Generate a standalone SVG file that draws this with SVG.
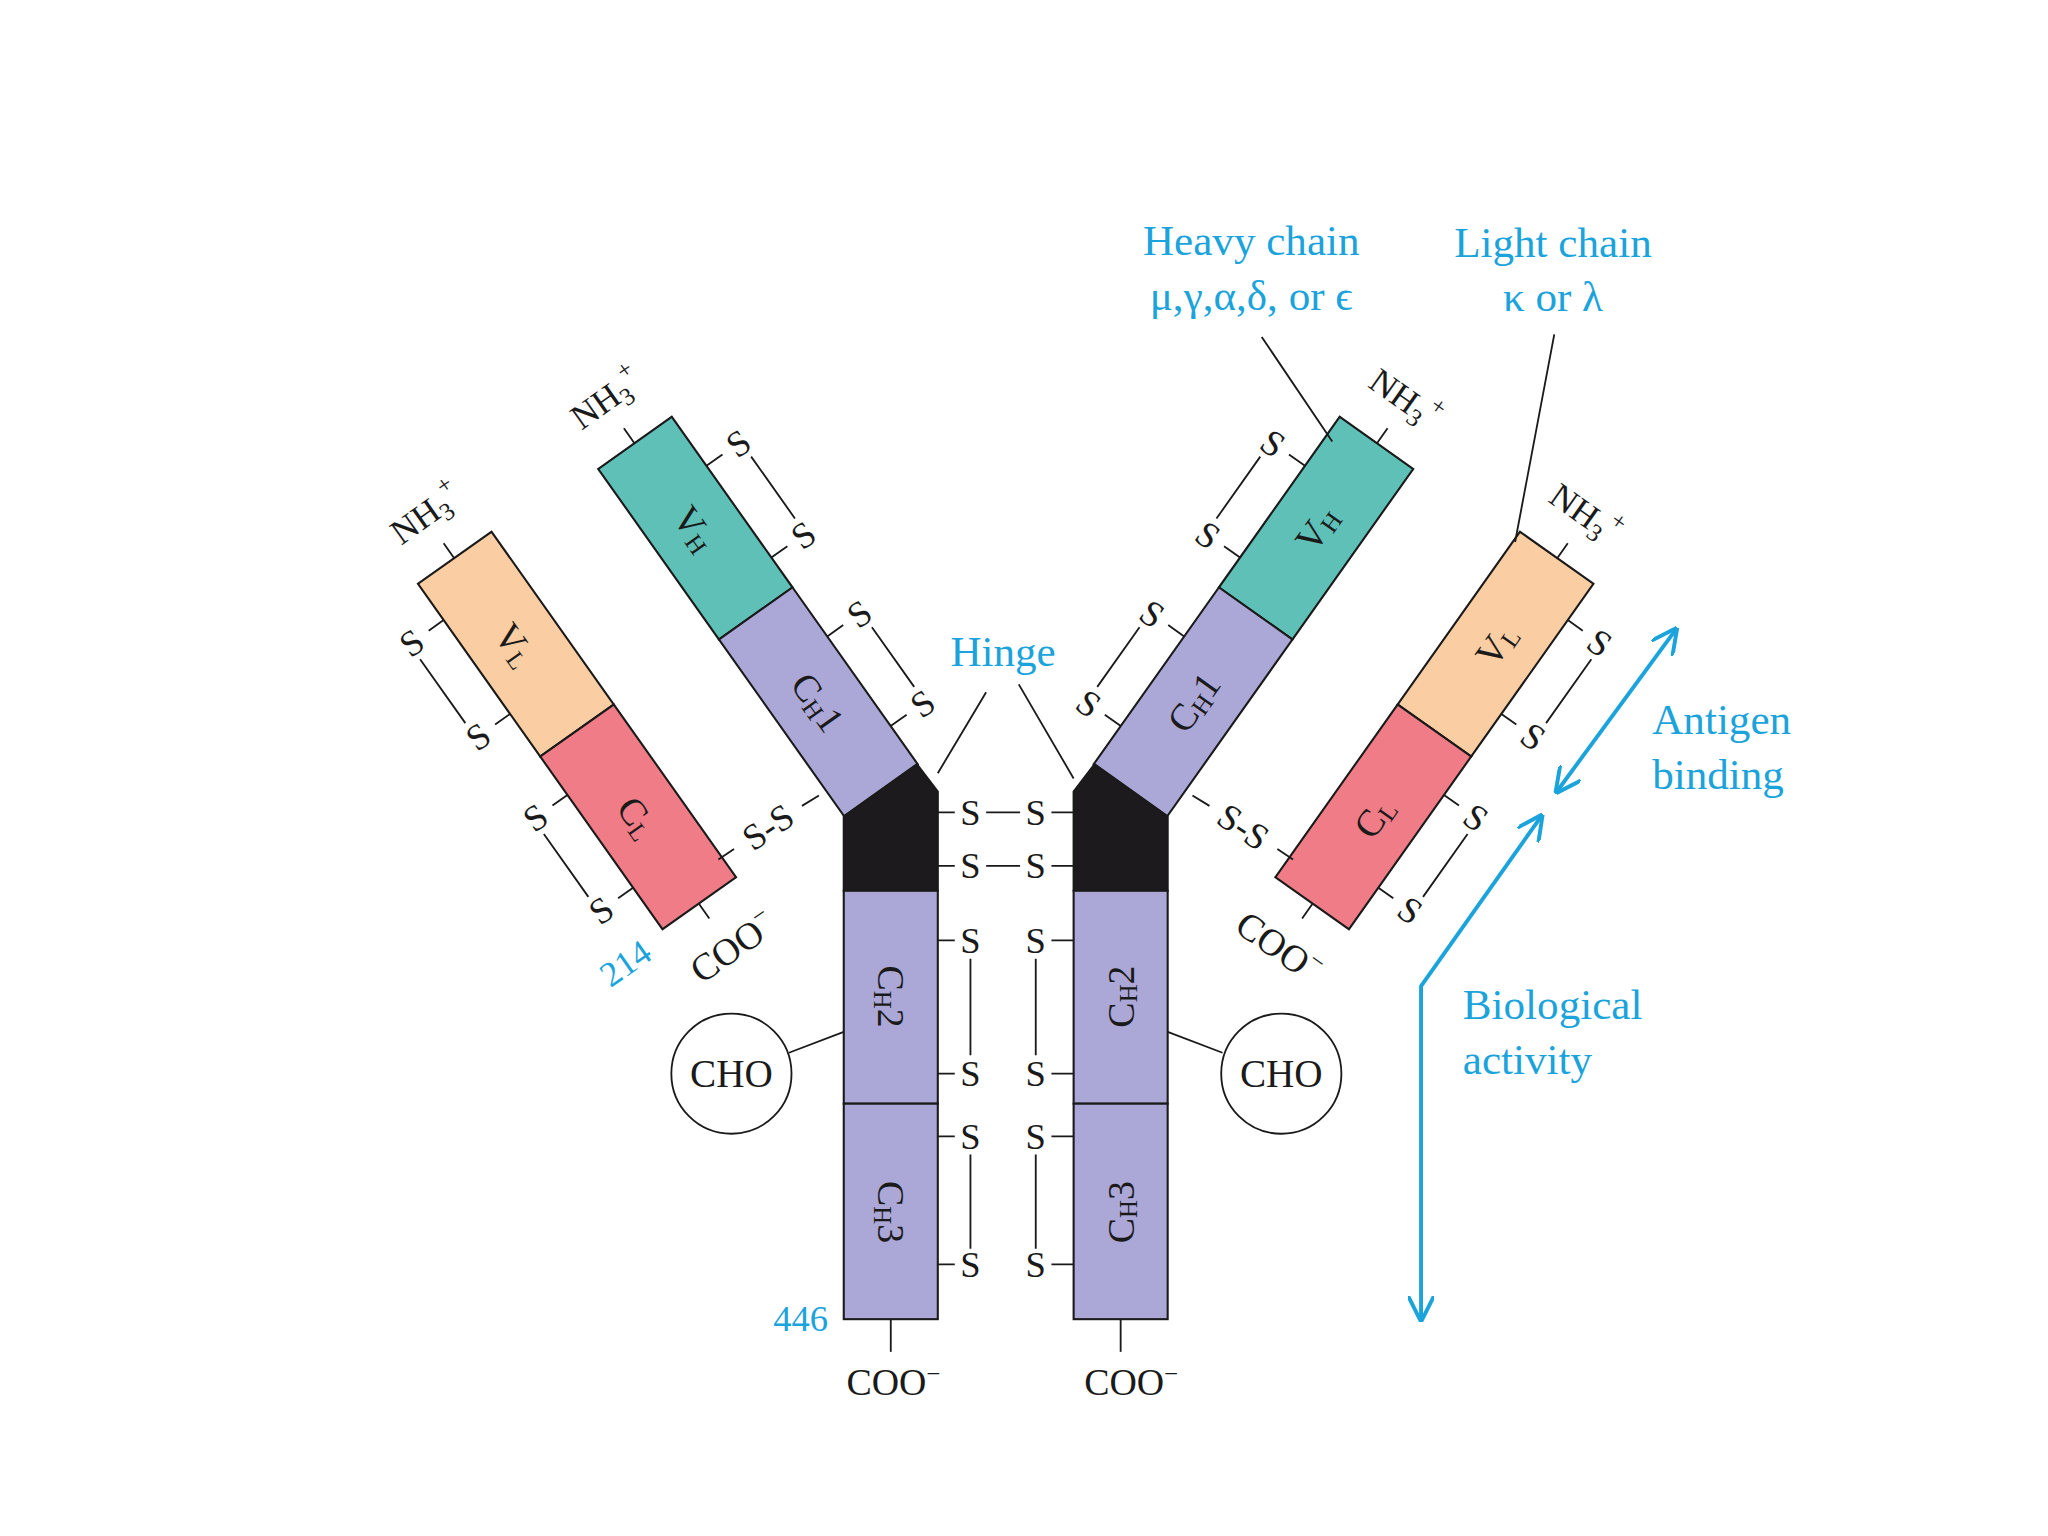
<svg xmlns="http://www.w3.org/2000/svg" width="2048" height="1536" viewBox="0 0 2048 1536">
<defs>
<style>
.b{stroke:#1a1a1a;stroke-width:1.6;}
.ln{stroke:#1a1a1a;stroke-width:1.4;fill:none;}
.vh{fill:#5ec0b6;}
.ch{fill:#aba7d6;}
.vl{fill:#fbcda2;}
.cl{fill:#ef7c86;}
.hg{fill:#1c1a1c;}
text{font-family:"Liberation Serif","DejaVu Serif",serif;fill:#1a1a1a;}
.s{font-size:28px;text-anchor:middle;dominant-baseline:central;}
.n{font-size:27px;text-anchor:middle;dominant-baseline:central;}
.c{font-size:29px;text-anchor:middle;}
.cc{font-size:29px;text-anchor:middle;dominant-baseline:central;}
.cho{font-size:30px;text-anchor:middle;}
.dl{font-size:29px;text-anchor:middle;dominant-baseline:central;}
.sb{font-size:19px;}
.bl{fill:#1ba3dc;font-size:33px;}
.arw{stroke:#1ba3dc;stroke-width:3;fill:none;}
</style>
<marker id="ah" viewBox="0 0 10 10" refX="9" refY="5" markerWidth="20" markerHeight="20" markerUnits="userSpaceOnUse" orient="auto-start-reverse">
<path d="M0,0 L10,5 L0,10" fill="none" stroke="#1ba3dc" stroke-width="1.5"/>
</marker>
</defs>
<rect width="2048" height="1536" fill="#ffffff"/>
<g transform="scale(1.30612)">

<!-- LEFT LIGHT CHAIN -->
<g id="left-light" transform="translate(320,447) rotate(54.7)">
<rect class="vl b" x="0" y="-69" width="162" height="69"/>
<rect class="cl b" x="162" y="-69" width="162" height="69"/>
<text class="dl" transform="translate(81,-34)">V<tspan class="sb" dy="6">L</tspan></text>
<text class="dl" transform="translate(243,-34)">C<tspan class="sb" dy="6">L</tspan></text>
<path class="ln" d="M34,0V14 M122,0V14 M198,0V14 M285,0V14 M48,32H108 M212,32H271 M0,-34H-14 M324,-34H338"/>
<text class="s" transform="translate(34,30) rotate(-90)">S</text>
<text class="s" transform="translate(122,30) rotate(-90)">S</text>
<text class="s" transform="translate(198,30) rotate(-90)">S</text>
<text class="s" transform="translate(285,30) rotate(-90)">S</text>
<text class="n" transform="translate(-40,-36) rotate(-90)">NH<tspan class="sb" dy="7">3</tspan><tspan class="sb" dy="-18">+</tspan></text>
<text class="cc" transform="translate(366,-36) rotate(-90)">COO<tspan dy="-9" class="sb">−</tspan></text>
</g>

<!-- LEFT HEAVY ARM -->
<g id="left-heavy-arm" transform="translate(458,359) rotate(54.7)">
<rect class="vh b" x="0" y="-69" width="160" height="69"/>
<rect class="ch b" x="160" y="-69" width="166" height="69"/>
<text class="dl" transform="translate(80,-34)">V<tspan class="sb" dy="6">H</tspan></text>
<text class="dl" transform="translate(243,-34)">C<tspan class="sb" dy="6">H</tspan><tspan dy="-6">1</tspan></text>
<path class="ln" d="M46,-69V-84 M132,-69V-84 M206,-69V-84 M290,-69V-84 M60,-101H118 M220,-101H276 M0,-34H-14"/>
<text class="s" transform="translate(46,-99) rotate(-90)">S</text>
<text class="s" transform="translate(132,-99) rotate(-90)">S</text>
<text class="s" transform="translate(206,-99) rotate(-90)">S</text>
<text class="s" transform="translate(290,-99) rotate(-90)">S</text>
<text class="n" transform="translate(-40,-36) rotate(-90)">NH<tspan class="sb" dy="7">3</tspan><tspan class="sb" dy="-18">+</tspan></text>
</g>

<!-- LEFT STEM -->
<g id="left-stem">
<polygon class="hg b" points="646,625 702,585 718,606 718,682 646,682"/>
<rect class="ch b" x="646" y="682" width="72" height="163"/>
<rect class="ch b" x="646" y="845" width="72" height="165"/>
<text class="dl" transform="translate(682,763) rotate(90)">C<tspan class="sb" dy="6">H</tspan><tspan dy="-6">2</tspan></text>
<text class="dl" transform="translate(682,928) rotate(90)">C<tspan class="sb" dy="6">H</tspan><tspan dy="-6">3</tspan></text>
<path class="ln" d="M682,1010V1035"/>
<text class="c" x="684" y="1068">COO<tspan dy="-10" class="sb">−</tspan></text>
<text class="bl" font-size="28" x="634" y="1019" text-anchor="end" style="font-size:28px">446</text>
</g>
<g id="left-cho">
<circle cx="560" cy="822" r="46" fill="#fff" class="ln"/>
<text class="cho" x="560" y="832">CHO</text>
</g>

<!-- RIGHT (mirror) -->
<g id="right-light" transform="translate(1220,447) rotate(-54.7) scale(-1,1)">
<rect class="vl b" x="0" y="-69" width="162" height="69"/>
<rect class="cl b" x="162" y="-69" width="162" height="69"/>
<text class="dl" transform="translate(81,-34) scale(-1,1)">V<tspan class="sb" dy="6">L</tspan></text>
<text class="dl" transform="translate(243,-34) scale(-1,1)">C<tspan class="sb" dy="6">L</tspan></text>
<path class="ln" d="M34,0V14 M122,0V14 M198,0V14 M285,0V14 M48,32H108 M212,32H271 M0,-34H-14 M324,-34H338"/>
<text class="s" transform="translate(34,30) rotate(-90) scale(-1,1)">S</text>
<text class="s" transform="translate(122,30) rotate(-90) scale(-1,1)">S</text>
<text class="s" transform="translate(198,30) rotate(-90) scale(-1,1)">S</text>
<text class="s" transform="translate(285,30) rotate(-90) scale(-1,1)">S</text>
<text class="n" transform="translate(-40,-36) rotate(-90) scale(-1,1)">NH<tspan class="sb" dy="7">3</tspan><tspan class="sb" dy="-18">+</tspan></text>
<text class="cc" transform="translate(366,-36) rotate(-90) scale(-1,1)">COO<tspan dy="-9" class="sb">−</tspan></text>
</g>
<g id="right-heavy-arm" transform="translate(1082,359) rotate(-54.7) scale(-1,1)">
<rect class="vh b" x="0" y="-69" width="160" height="69"/>
<rect class="ch b" x="160" y="-69" width="166" height="69"/>
<text class="dl" transform="translate(80,-34) scale(-1,1)">V<tspan class="sb" dy="6">H</tspan></text>
<text class="dl" transform="translate(243,-34) scale(-1,1)">C<tspan class="sb" dy="6">H</tspan><tspan dy="-6">1</tspan></text>
<path class="ln" d="M46,-69V-84 M132,-69V-84 M206,-69V-84 M290,-69V-84 M60,-101H118 M220,-101H276 M0,-34H-14"/>
<text class="s" transform="translate(46,-99) rotate(-90) scale(-1,1)">S</text>
<text class="s" transform="translate(132,-99) rotate(-90) scale(-1,1)">S</text>
<text class="s" transform="translate(206,-99) rotate(-90) scale(-1,1)">S</text>
<text class="s" transform="translate(290,-99) rotate(-90) scale(-1,1)">S</text>
<text class="n" transform="translate(-40,-36) rotate(-90) scale(-1,1)">NH<tspan class="sb" dy="7">3</tspan><tspan class="sb" dy="-18">+</tspan></text>
</g>
<g id="right-stem" transform="translate(1540,0) scale(-1,1)">
<polygon class="hg b" points="646,625 702,585 718,606 718,682 646,682"/>
<rect class="ch b" x="646" y="682" width="72" height="163"/>
<rect class="ch b" x="646" y="845" width="72" height="165"/>
<text class="dl" transform="translate(682,763) rotate(90) scale(-1,1)">C<tspan class="sb" dy="6">H</tspan><tspan dy="-6">2</tspan></text>
<text class="dl" transform="translate(682,928) rotate(90) scale(-1,1)">C<tspan class="sb" dy="6">H</tspan><tspan dy="-6">3</tspan></text>
<path class="ln" d="M682,1010V1035"/>
</g>
<text class="c" x="866" y="1068">COO<tspan dy="-10" class="sb">−</tspan></text>
<g id="right-cho">
<circle cx="981" cy="822" r="46" fill="#fff" class="ln"/>
<text class="cho" x="981" y="832">CHO</text>
</g>

<!-- connectors: disulfide bonds, leader lines -->
<g id="connectors">
<path class="ln" d="M718,622H731 M755,622H781 M805,622H822 M718,663H731 M755,663H781 M805,663H822
M718,720H731 M743,734V808 M718,822H731 M718,870H731 M743,884V956 M718,968H731
M805,720H822 M793,734V808 M805,822H822 M805,870H822 M793,884V956 M805,968H822
M550,658L562,650 M614,617L627,609 M990,658L978,650 M926,617L913,609
M604,806L646,790 M936,806L894,790 M755,530L718,592 M780,524L822,596
M966,258L1020,338 M1190,256L1160,415"/>
<text x="743" y="622" class="s">S</text><text x="793" y="622" class="s">S</text>
<text x="743" y="663" class="s">S</text><text x="793" y="663" class="s">S</text>
<text x="743" y="720" class="s">S</text><text x="793" y="720" class="s">S</text>
<text x="743" y="822" class="s">S</text><text x="793" y="822" class="s">S</text>
<text x="743" y="870" class="s">S</text><text x="793" y="870" class="s">S</text>
<text x="743" y="968" class="s">S</text><text x="793" y="968" class="s">S</text>
<text class="s" transform="translate(588,633) rotate(-34)">S-S</text>
<text class="s" transform="translate(952,633) rotate(34)">S-S</text>
<path class="arw" d="M1192,606L1283,482" marker-start="url(#ah)" marker-end="url(#ah)"/>
<path class="arw" d="M1180,625L1088,755V1010" marker-start="url(#ah)" marker-end="url(#ah)"/>
</g>

<text class="bl" transform="translate(484,745) rotate(-35)" text-anchor="middle" style="font-size:27px">214</text>
<text class="bl" x="768" y="510" text-anchor="middle">Hinge</text>
<text class="bl" x="958" y="195" text-anchor="middle">Heavy chain</text>
<text class="bl" x="958" y="237" text-anchor="middle">μ,γ,α,δ, or ϵ</text>
<text class="bl" x="1189" y="197" text-anchor="middle">Light chain</text>
<text class="bl" x="1189" y="238" text-anchor="middle">κ or λ</text>
<text class="bl" x="1265" y="562">Antigen</text>
<text class="bl" x="1265" y="604">binding</text>
<text class="bl" x="1120" y="780">Biological</text>
<text class="bl" x="1120" y="822">activity</text>
</g>
</svg>
